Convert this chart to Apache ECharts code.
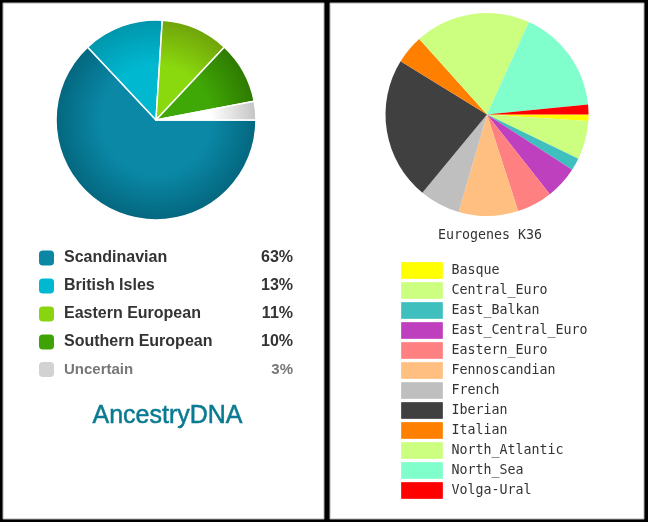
<!DOCTYPE html>
<html>
<head>
<meta charset="utf-8">
<script src="https://cdn.jsdelivr.net/npm/echarts@6/dist/echarts.min.js"></script>
<style>
html, body { margin: 0; padding: 0; background: #000; }
#chart { width: 648px; height: 522px; }
</style>
</head>
<body>
<div id="chart"></div>
<script>
// 左边 AncestryDNA
const ancestryNames = ['Scandinavian', 'British Isles', 'Eastern European', 'Southern European', 'Uncertain'];
const ancestryValues = [63, 13, 11, 10, 3];
const ancestryColors = ['#0b86a3', '#00b8cf', '#88d40e', '#3ea306', '#d2d2d2'];
const ancestryInner = ['#0a88a6', '#00b8d0', '#8ad80e', '#40a806', '#ffffff'];
const ancestryOuter = ['#04677f', '#0096ac', '#70a40a', '#2e7a00', '#c4c4c4'];

// 右边 Eurogenes K36
const k36Names = ['Basque', 'Central_Euro', 'East_Balkan', 'East_Central_Euro', 'Eastern_Euro', 'Fennoscandian',
    'French', 'Iberian', 'Italian', 'North_Atlantic', 'North_Sea', 'Volga-Ural'];
const k36Values = [1.03, 6.14, 2.0, 5.2, 5.67, 9.47, 6.47, 22.8, 4.58, 18.4, 16.67, 1.56];
const k36Colors = ['#ffff00', '#ccff80', '#40bfbf', '#bf40bf', '#ff8080', '#ffbf80',
    '#bfbfbf', '#404040', '#ff8000', '#ccff80', '#80ffcc', '#ff0000'];

let chart = echarts.init(document.getElementById('chart'), null, { renderer: 'canvas' });

let pctOf = {};
ancestryNames.forEach((n, i) => { pctOf[n] = ancestryValues[i]; });

function sliceGradient(i) {
    return new echarts.graphic.RadialGradient(156, 120, 100, [
        { offset: 0, color: ancestryInner[i] },
        { offset: 0.55, color: ancestryInner[i] },
        { offset: 1, color: ancestryOuter[i] }
    ], true);
}

let option = {
    backgroundColor: '#000000',
    animation: false,
    graphic: [
        { type: 'rect', silent: true, z: 0, shape: { x: 3, y: 3, width: 321, height: 516 },
          style: { fill: '#ffffff', stroke: '#b0b0b0', lineWidth: 1 } },
        { type: 'rect', silent: true, z: 0, shape: { x: 330, y: 3, width: 314, height: 516 },
          style: { fill: '#ffffff', stroke: '#b0b0b0', lineWidth: 1 } }
    ],
    title: [
        {
            text: 'AncestryDNA', left: 167.5, top: 404, textAlign: 'center', padding: 0,
            textStyle: { color: '#0a7a92', fontFamily: 'Liberation Sans', fontSize: 25, fontWeight: 'normal',
                textBorderColor: '#0a7a92', textBorderWidth: 0.5 }
        },
        {
            text: 'Eurogenes K36', left: 490, top: 229, textAlign: 'center', padding: 0,
            textStyle: { color: '#333333', fontFamily: 'DejaVu Sans Mono', fontSize: 13.3, fontWeight: 'normal' }
        }
    ],
    legend: [
        {
            orient: 'vertical', left: 39, top: 250, padding: 0, itemWidth: 15, itemHeight: 15, itemGap: 12,
            icon: 'roundRect', selectedMode: false,
            itemStyle: { borderWidth: 0 },
            data: ancestryNames.map((n, i) => ({ name: n, itemStyle: { color: ancestryColors[i], borderWidth: 0 } })),
            formatter: n => n === 'Uncertain'
                ? '{un|' + n + '}{up|' + pctOf[n] + '%}'
                : '{n|' + n + '}{p|' + pctOf[n] + '%}',
            textStyle: {
                rich: {
                    n: { width: 195, padding: [0, 0, 0, 5], fontFamily: 'Liberation Sans', fontSize: 16, fontWeight: 'bold', color: '#333333' },
                    p: { width: 34, align: 'right', fontFamily: 'Liberation Sans', fontSize: 16, fontWeight: 'bold', color: '#333333' },
                    un: { width: 195, padding: [0, 0, 0, 5], fontFamily: 'Liberation Sans', fontSize: 15, fontWeight: 'bold', color: '#777777' },
                    up: { width: 34, align: 'right', fontFamily: 'Liberation Sans', fontSize: 15, fontWeight: 'bold', color: '#777777' }
                }
            }
        },
        {
            orient: 'vertical', left: 401, top: 262, padding: 0, itemWidth: 41, itemHeight: 16, itemGap: 3,
            icon: 'rect', selectedMode: false,
            data: k36Names.map((n, i) => ({
                name: n,
                itemStyle: { color: k36Colors[i], borderColor: echarts.color.modifyAlpha(k36Colors[i], 0.7), borderWidth: 1 }
            })),
            formatter: n => '{t|' + n + '}',
            textStyle: {
                rich: {
                    t: { padding: [0, 0, 0, 4], height: 16, lineHeight: 16, color: '#333333', fontFamily: 'DejaVu Sans Mono', fontSize: 13.3 }
                }
            }
        }
    ],
    series: [
        {
            type: 'pie', center: [156, 120], radius: [0, 100], startAngle: 0, clockwise: true,
            label: { show: false }, labelLine: { show: false }, silent: true,
            itemStyle: { borderColor: '#ffffff', borderWidth: 1.5 },
            data: ancestryNames.map((n, i) => ({
                name: n, value: ancestryValues[i], itemStyle: { color: sliceGradient(i) }
            }))
        },
        {
            type: 'pie', center: [487, 114.5], radius: [0, 101.5], startAngle: 0, clockwise: true,
            label: { show: false }, labelLine: { show: false }, silent: true,
            data: k36Names.map((n, i) => ({
                name: n, value: k36Values[i], itemStyle: { color: k36Colors[i] }
            }))
        }
    ]
};

chart.setOption(option);
</script>
</body>
</html>
